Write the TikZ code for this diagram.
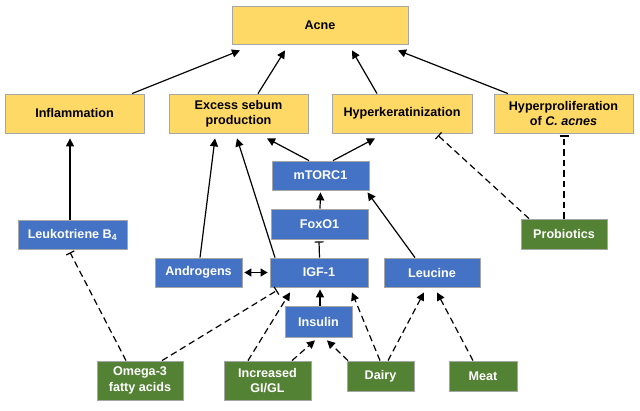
\documentclass[tikz,border=0pt]{standalone}
\usepackage{fontspec}
\setmainfont{Liberation Sans}
\usetikzlibrary{arrows.meta}
\definecolor{ybox}{HTML}{FFD966}
\definecolor{bbox}{HTML}{4472C4}
\definecolor{gbox}{HTML}{548235}
\definecolor{edge}{HTML}{A6A6A6}
\tikzset{
  box/.style={draw=edge, line width=0.8pt, inner sep=0pt, align=center,
    font=\fontsize{12.6}{15.5}\selectfont\bfseries},
  ybx/.style={box, fill=ybox, text=black},
  bbx/.style={box, fill=bbox, text=white},
  gbx/.style={box, fill=gbox, text=white},
  sz/.style 2 args={minimum width=#1pt, minimum height=#2pt},
  act/.style={line width=1.2pt, -{Triangle[length=8pt,width=8pt]}},
  dact/.style={act, dash pattern=on 6.5pt off 4pt},
  inh/.style={line width=1.2pt, -{Bar[width=9pt,line width=1.2pt]}},
  dinh/.style={inh, dash pattern=on 6.5pt off 4pt},
}
\begin{document}
\begin{tikzpicture}[x=1pt,y=-1pt]
\useasboundingbox (0,0) rectangle (640,411);
\fill[white] (0,0) rectangle (640,411);
% top level
\node[ybx, sz={176}{38}] (acne) at (320,25) {Acne};
\node[ybx, sz={139}{39}] (infl) at (74.5,113.5) {Inflammation};
\node[ybx, sz={139}{39}] (sebum) at (238.5,113.5) {Excess sebum\\production};
\node[ybx, sz={140}{39}] (hyper) at (402,113.5) {Hyperkeratinization};
\node[ybx, sz={139}{39}] (prolif) at (563.5,113.5) {Hyperproliferation\\of \textit{C. acnes}};
% blue
\node[bbx, sz={109}{29}] (leuko) at (72.5,234.5) {Leukotriene B\textsubscript{4}};
\node[bbx, sz={97}{29}] (mtorc) at (320.5,175.5) {mTORC1};
\node[bbx, sz={97}{30}] (foxo) at (319.5,224) {FoxO1};
\node[bbx, sz={87}{29}] (andro) at (198.5,272.5) {Androgens};
\node[bbx, sz={98}{29}] (igf) at (319,272.5) {IGF-1};
\node[bbx, sz={96}{29}] (leucine) at (432,272.5) {Leucine};
\node[bbx, sz={67}{31}] (insulin) at (318.5,321.5) {Insulin};
% green
\node[gbx, sz={86}{30}] (probio) at (564,234) {Probiotics};
\node[gbx, sz={86}{39}] (omega) at (140,380.5) {Omega-3\\fatty acids};
\node[gbx, sz={87}{39}] (gigl) at (267.5,380.5) {Increased\\GI/GL};
\node[gbx, sz={67}{30}] (dairy) at (380.5,376) {Dairy};
\node[gbx, sz={68}{30}] (meat) at (483,376) {Meat};
% arrows into acne
\draw[act] ([xshift=57.5pt]infl.north) -- ([xshift=-80pt,yshift=-6pt]acne.south);
\draw[act] ([xshift=19.5pt]sebum.north) -- ([xshift=-35pt,yshift=-6pt]acne.south);
\draw[act] ([xshift=-25pt]hyper.north) -- ([xshift=32pt,yshift=-6pt]acne.south);
\draw[act] ([xshift=-55.5pt]prolif.north) -- ([xshift=78pt,yshift=-6pt]acne.south);
% middle
\draw[act] ([xshift=-2.5pt]leuko.north) -- ([xshift=-4.5pt,yshift=-5pt]infl.south);
\draw[act] ([xshift=1.5pt]andro.north) -- ([xshift=-23.5pt,yshift=-5pt]sebum.south);
\draw[act] ([xshift=-44pt]igf.north) -- ([xshift=-1.5pt,yshift=-5pt]sebum.south);
\draw[act] ([xshift=-11.5pt]mtorc.north) -- ([xshift=28.5pt,yshift=-5pt]sebum.south);
\draw[act] ([xshift=12.5pt]mtorc.north) -- ([xshift=-27pt,yshift=-5pt]hyper.south);
\draw[act] ([xshift=0.5pt]foxo.north) -- ([yshift=-2pt]mtorc.south);
\draw[inh] ([xshift=0.5pt]igf.north) -- ([xshift=-0.5pt,yshift=-2pt]foxo.south);
\draw[act] ([xshift=-17pt]leucine.north) -- ([xshift=47pt,yshift=-2pt]mtorc.south);
\draw[line width=1.2pt, {Triangle[length=7pt,width=8pt]}-{Triangle[length=7pt,width=8pt]}] ([xshift=2pt]andro.east) -- ([xshift=-2pt]igf.west);
\draw[act] ([xshift=1.5pt]insulin.north) -- ([xshift=1pt,yshift=-2pt]igf.south);
% dashed from bottom
\draw[dinh] ([xshift=-14pt]omega.north) -- ([xshift=-2.5pt,yshift=-3pt]leuko.south);
\draw[dinh] ([xshift=22pt]omega.north) -- ([xshift=-42pt,yshift=-3pt]igf.south);
\draw[dact] ([xshift=-19.5pt]gigl.north) -- ([xshift=-29pt,yshift=-5pt]igf.south);
\draw[dact] ([xshift=24.5pt]gigl.north) -- ([xshift=-3.5pt,yshift=-3pt]insulin.south);
\draw[dact] ([xshift=-32.5pt]dairy.north) -- ([xshift=8.5pt,yshift=-3pt]insulin.south);
\draw[dact] ([xshift=-0.5pt]dairy.north) -- ([xshift=33pt,yshift=-5pt]igf.south);
\draw[dact] ([xshift=7.5pt]dairy.north) -- ([xshift=-8pt,yshift=-5pt]leucine.south);
\draw[dact] ([xshift=-10pt]meat.north) -- ([xshift=5pt,yshift=-5pt]leucine.south);
% probiotics
\draw[dinh] ([xshift=-35pt]probio.north) -- ([xshift=36pt,yshift=-2pt]hyper.south);
\draw[dinh] (probio.north) -- ([xshift=0.5pt,yshift=-2pt]prolif.south);
\end{tikzpicture}
\end{document}
